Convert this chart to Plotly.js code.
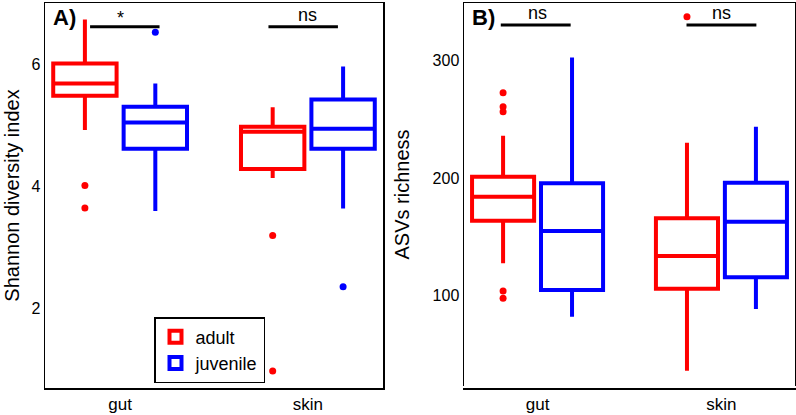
<!DOCTYPE html>
<html>
<head>
<meta charset="utf-8">
<script src="https://cdn.plot.ly/plotly-3.0.1.min.js"></script>
<style>html,body{margin:0;padding:0;background:#fff;}#chart{width:796px;height:415px;}</style>
</head>
<body>
<div id="chart"></div>
<script>
// ---- data ----
var categories = ['gut', 'skin'];
var groups = ['adult', 'juvenile'];

// Panel A: Shannon diversity index
var shannonAdultQ1 = [5.48, 4.28];
var shannonAdultMedian = [5.68, 4.89];
var shannonAdultQ3 = [6.01, 4.97];
var shannonAdultLower = [4.92, 4.13];
var shannonAdultUpper = [6.73, 5.29];
var shannonAdultOutliers = [[4.01, 3.64], [3.19, 0.97]];

var shannonJuvQ1 = [4.61, 4.61];
var shannonJuvMedian = [5.04, 4.94];
var shannonJuvQ3 = [5.30, 5.42];
var shannonJuvLower = [3.59, 3.63];
var shannonJuvUpper = [5.68, 5.96];
var shannonJuvOutliers = [[6.52], [2.35]];

// Panel B: ASVs richness
var richAdultQ1 = [163.7, 106];
var richAdultMedian = [184.1, 133.7];
var richAdultQ3 = [201, 165.8];
var richAdultLower = [127.5, 36.3];
var richAdultUpper = [236, 230];
var richAdultOutliers = [[272.5, 260.6, 256.3, 104, 97.8], [337]];

var richJuvQ1 = [104.8, 115.6];
var richJuvMedian = [155, 162.9];
var richJuvQ3 = [195.5, 196];
var richJuvLower = [82.2, 88.7];
var richJuvUpper = [302.5, 243.6];
var richJuvOutliers = null; // no outliers

var sigLabelsA = ['*', 'ns'];
var sigLabelsB = ['ns', 'ns'];
var sigLevelA = 6.61;
var sigLevelB = 330;

var RED = '#FF0000', BLUE = '#0000FF';

function boxTrace(name, color, q1, med, q3, lo, hi, pts, xa, ya, showleg, panel) {
  var t = {
    type: 'box', name: name, legendgroup: name, showlegend: showleg,
    x: categories,
    q1: q1, median: med, q3: q3, lowerfence: lo, upperfence: hi,
    jitter: 0, pointpos: 0,
    whiskerwidth: 0,
    line: {color: color, width: 4},
    fillcolor: '#FFFFFF',
    marker: {color: color, size: 7},
    alignmentgroup: panel, offsetgroup: name,
    xaxis: xa, yaxis: ya, hoverinfo: 'skip'
  };
  if (pts) { t.y = pts; t.boxpoints = 'outliers'; } else { t.boxpoints = false; }
  return t;
}

var data = [
  boxTrace(groups[0], RED, shannonAdultQ1, shannonAdultMedian, shannonAdultQ3, shannonAdultLower, shannonAdultUpper, shannonAdultOutliers, 'x', 'y', true, 'A'),
  boxTrace(groups[1], BLUE, shannonJuvQ1, shannonJuvMedian, shannonJuvQ3, shannonJuvLower, shannonJuvUpper, shannonJuvOutliers, 'x', 'y', true, 'A'),
  boxTrace(groups[0], RED, richAdultQ1, richAdultMedian, richAdultQ3, richAdultLower, richAdultUpper, richAdultOutliers, 'x2', 'y2', false, 'B'),
  boxTrace(groups[1], BLUE, richJuvQ1, richJuvMedian, richJuvQ3, richJuvLower, richJuvUpper, richJuvOutliers, 'x2', 'y2', false, 'B')
];

var FONT = 'Liberation Sans, Arial, sans-serif';
var shapes = [], annotations = [];
var sigSpanA = [[-0.16, 0.21], [-0.21, 0.16]];
var sigSpanB = [[-0.20, 0.18], [-0.19, 0.19]];
categories.forEach(function (c, i) {
  shapes.push({type: 'line', xref: 'x', yref: 'y', x0: i + sigSpanA[i][0], x1: i + sigSpanA[i][1], y0: sigLevelA, y1: sigLevelA, line: {color: '#000', width: 3}});
  shapes.push({type: 'line', xref: 'x2', yref: 'y2', x0: i + sigSpanB[i][0], x1: i + sigSpanB[i][1], y0: sigLevelB, y1: sigLevelB, line: {color: '#000', width: 3}});
  annotations.push({xref: 'x', yref: 'y', x: i, y: sigLevelA, text: sigLabelsA[i], showarrow: false, yanchor: 'bottom', yshift: i === 0 ? -3 : 0, font: {family: FONT, size: 18, color: '#000'}});
  annotations.push({xref: 'x2', yref: 'y2', x: i, y: sigLevelB, text: sigLabelsB[i], showarrow: false, yanchor: 'bottom', yshift: 0, font: {family: FONT, size: 18, color: '#000'}});
});
annotations.push({xref: 'paper', yref: 'paper', x: 51 / 796, y: 1 - 3 / 415, xanchor: 'left', yanchor: 'top', text: '<b>A)</b>', showarrow: false, font: {family: FONT, size: 22, color: '#000'}});
annotations.push({xref: 'paper', yref: 'paper', x: 470 / 796, y: 1 - 3 / 415, xanchor: 'left', yanchor: 'top', text: '<b>B)</b>', showarrow: false, font: {family: FONT, size: 22, color: '#000'}});

function xAxis(domain) {
  return {
    domain: domain, type: 'category', range: [-0.4, 1.4],
    showline: true, mirror: true, linecolor: '#000', linewidth: 1.5,
    showgrid: false, zeroline: false, ticks: '',
    tickfont: {family: FONT, size: 17, color: '#000'}
  };
}
function yAxis(domain, range, tickvals, title, anchor, standoff) {
  return {
    domain: domain, range: range, tickvals: tickvals, anchor: anchor,
    showline: true, mirror: true, linecolor: '#000', linewidth: 1.5,
    showgrid: false, zeroline: false, ticks: '',
    tickfont: {family: FONT, size: 16, color: '#000'},
    title: {text: title, font: {family: FONT, size: 20, color: '#000'}, standoff: standoff}
  };
}

var layout = {
  width: 796, height: 415,
  margin: {l: 0, r: 0, t: 0, b: 0},
  paper_bgcolor: '#fff', plot_bgcolor: '#fff',
  boxmode: 'group', boxgap: 0.25, boxgroupgap: 0.1,
  xaxis: xAxis([45 / 796, 383 / 796]),
  yaxis: yAxis([1 - 388 / 415, 1 - 3 / 415], [0.69, 7.0], [2, 4, 6], 'Shannon diversity index', 'x', 6),
  xaxis2: xAxis([464 / 796, 795 / 796]),
  yaxis2: yAxis([1 - 386 / 415, 1 - 3 / 415], [23.3, 348.7], [100, 200, 300], 'ASVs richness', 'x2', 17),
  showlegend: true,
  legend: {
    x: 154 / 796, y: 1 - 317 / 415, xanchor: 'left', yanchor: 'top',
    bordercolor: '#000', borderwidth: 1.5, bgcolor: '#fff',
    font: {family: FONT, size: 18, color: '#000'},
    itemwidth: 30, tracegroupgap: 0
  },
  shapes: shapes,
  annotations: annotations
};

Plotly.newPlot('chart', data, layout, {displayModeBar: false, staticPlot: true});
</script>
</body>
</html>
